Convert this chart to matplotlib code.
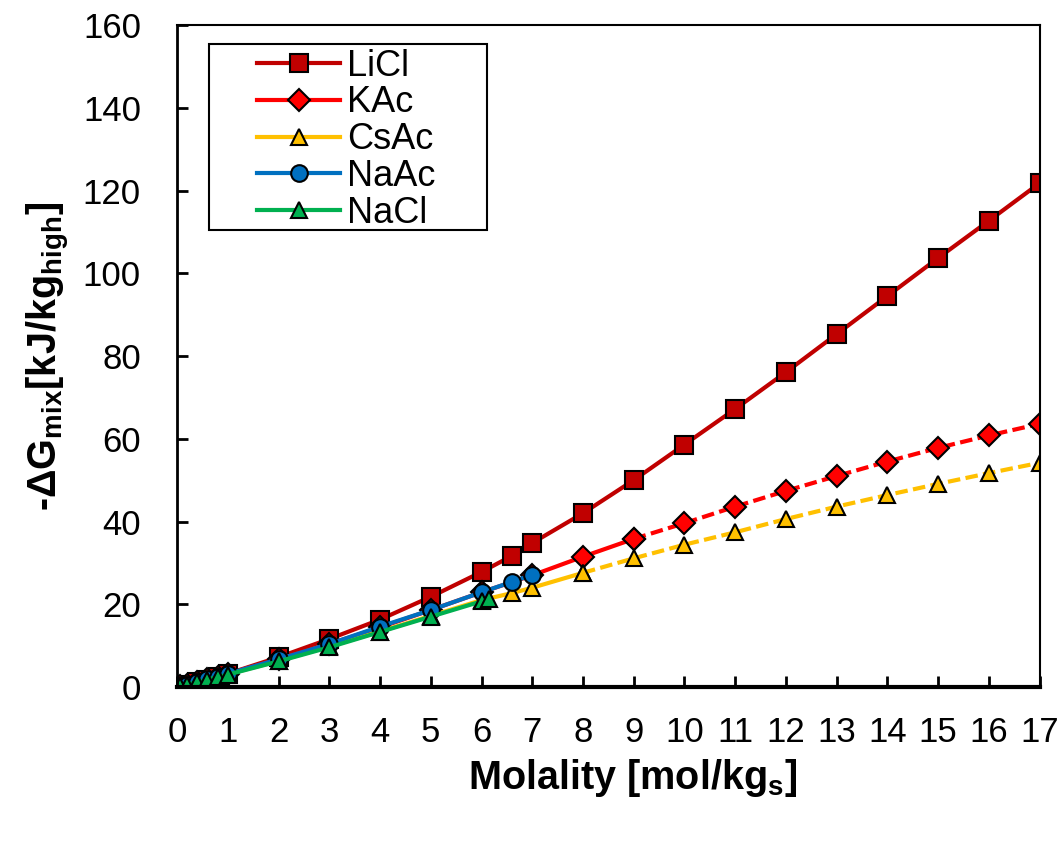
import matplotlib
matplotlib.use('Agg')
import matplotlib.pyplot as plt
from matplotlib.patches import Rectangle

plt.rcParams['font.family'] = ['Liberation Sans', 'DejaVu Sans']
plt.rcParams['mathtext.fontset'] = 'custom'
plt.rcParams['mathtext.rm'] = 'Liberation Sans:bold'
plt.rcParams['mathtext.bf'] = 'Liberation Sans:bold'

# molality [mol/kg_s] and -dG_mix [kJ/kg_high]
x_licl = [0.05, 0.2, 0.4, 0.6, 0.8, 1, 2, 3, 4, 5, 6, 6.6, 7, 8, 9, 10, 11, 12, 13, 14, 15, 16, 17]
y_licl = [0.15, 0.6, 1.2, 1.8, 2.5, 3.2, 7.2, 11.6, 16.3, 21.8, 27.8, 31.7, 34.8, 42.0, 50.0, 58.6, 67.2, 76.1, 85.3, 94.5, 103.7, 112.7, 121.8]

x_kac = [0.05, 0.2, 0.4, 0.6, 0.8, 1, 2, 3, 4, 5, 6, 7, 8, 9, 10, 11, 12, 13, 14, 15, 16, 17]
y_kac = [0.15, 0.6, 1.2, 1.9, 2.5, 3.2, 6.7, 10.4, 14.4, 18.6, 22.9, 27.0, 31.5, 35.8, 39.6, 43.6, 47.4, 51.0, 54.5, 57.8, 60.8, 63.6]
kac_solid_end = 9

x_csac = [0.05, 0.2, 0.4, 0.6, 0.8, 1, 2, 3, 4, 5, 6, 6.6, 7, 8, 9, 10, 11, 12, 13, 14, 15, 16, 17]
y_csac = [0.15, 0.6, 1.2, 1.8, 2.4, 3.1, 6.3, 9.8, 13.4, 17.2, 21.0, 22.7, 24.0, 27.6, 31.1, 34.4, 37.4, 40.6, 43.6, 46.4, 49.1, 51.7, 54.2]
csac_solid_end = 8

x_naac = [0.05, 0.2, 0.4, 0.6, 0.8, 1, 2, 3, 4, 5, 6, 6.6, 7]
y_naac = [0.15, 0.6, 1.2, 1.9, 2.5, 3.2, 6.7, 10.4, 14.6, 18.6, 22.9, 25.4, 27.1]

x_nacl = [0.05, 0.2, 0.4, 0.6, 0.8, 1, 2, 3, 4, 5, 6, 6.15]
y_nacl = [0.15, 0.6, 1.2, 1.8, 2.4, 3.0, 6.2, 9.6, 13.3, 17.0, 20.7, 21.3]

fig = plt.figure(figsize=(10.62, 8.51), dpi=100)
ax = fig.add_axes([0.1667, 0.1927, 0.8123, 0.7779])

lw = 3
dash = (0, (3, 1.3))
ms_kw = dict(markeredgecolor='black', markeredgewidth=1.5)

ax.plot(x_licl, y_licl, color='#C00000', lw=lw, marker='s', ms=13, label='LiCl', **ms_kw)

i = x_kac.index(kac_solid_end) + 1
ax.plot(x_kac[:i], y_kac[:i], color='#FF0000', lw=lw, marker='D', ms=11, label='KAc', **ms_kw)
ax.plot(x_kac[i - 1:], y_kac[i - 1:], color='#FF0000', lw=lw, ls=dash, marker='D', ms=11, **ms_kw)

j = x_csac.index(csac_solid_end) + 1
ax.plot(x_csac[:j], y_csac[:j], color='#FFC000', lw=lw, marker='^', ms=12, label='CsAc', **ms_kw)
ax.plot(x_csac[j - 1:], y_csac[j - 1:], color='#FFC000', lw=lw, ls=dash, marker='^', ms=12, **ms_kw)

ax.plot(x_naac, y_naac, color='#0070C0', lw=lw, marker='o', ms=12, label='NaAc', **ms_kw)
ax.plot(x_nacl, y_nacl, color='#00B050', lw=lw, marker='^', ms=12, label='NaCl', **ms_kw)

ax.set_xlim(0, 17)
ax.set_ylim(0, 160)
ax.set_xticks(range(0, 18))
ax.set_yticks(range(0, 161, 20))
ax.tick_params(axis='both', direction='in', length=8, width=2, labelsize=25)
ax.tick_params(axis='y', pad=26)
ax.tick_params(axis='x', pad=21)

for s in ['top', 'right']:
    ax.spines[s].set_linewidth(1.5)
ax.spines['left'].set_linewidth(2)
ax.spines['bottom'].set_linewidth(3)

ax.set_xlabel('Molality [mol/kg$_{\\mathrm{s}}$]', fontsize=28.5, fontweight='bold')
ax.set_ylabel('-ΔG$_{\\mathrm{mix}}$[kJ/kg$_{\\mathrm{high}}$]', fontsize=28.5, fontweight='bold')
ax.xaxis.set_label_coords(0.528, -0.105)
ax.yaxis.set_label_coords(-0.122, 0.50)

# legend box (wide side padding, like the spreadsheet legend)
ax.add_patch(Rectangle((0.0371, 0.690), 0.322, 0.281, transform=ax.transAxes,
                       facecolor='white', edgecolor='black', lw=1.5, zorder=4))
leg = ax.legend(loc='upper left', bbox_to_anchor=(0.0677, 0.997), fontsize=26,
                frameon=False, handlelength=2.3, handletextpad=0.2,
                labelspacing=0.05, borderpad=0.1)
leg.set_zorder(5)

fig.savefig('out.png', dpi=100)
